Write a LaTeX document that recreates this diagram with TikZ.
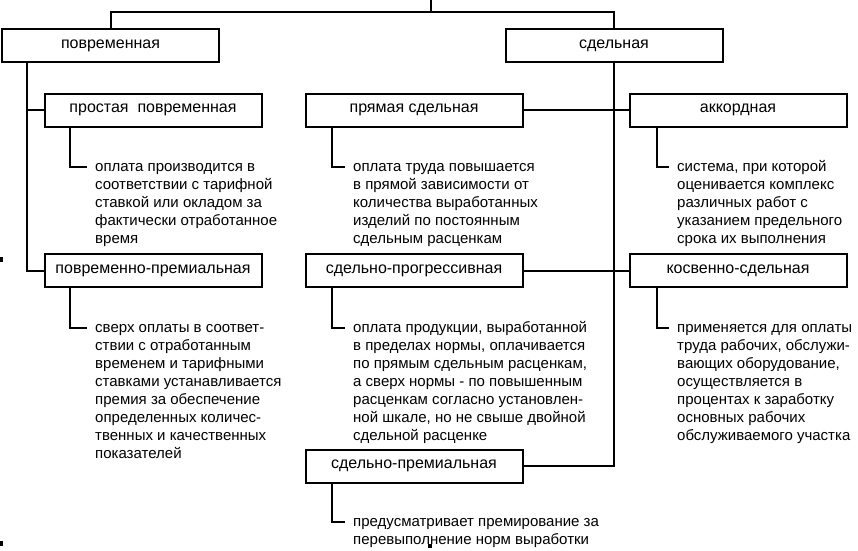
\documentclass[tikz,border=0pt]{standalone}
\usepackage{fontspec}
\setmainfont{Liberation Sans}
\usetikzlibrary{positioning}
\tikzset{
	kind/.style={draw, line width=2pt, minimum width=217pt, minimum height=33pt, inner sep=0pt, font=\fontsize{16}{19}\selectfont},
	note/.style={anchor=base west, inner sep=0pt, font=\fontsize{15}{18}\selectfont},
	link/.style={draw, line width=2pt}
}

\begin{document}
\begin{tikzpicture}[x=1pt, y=-1pt]
\useasboundingbox (0,0) rectangle (858,550);

\node[kind] (pvr) at (110.5,45.5) {повременная};
\node[kind] (sdl) at (614,45.5) {сдельная};

\node[kind] (prost) at (153,110) {простая\ \ повременная};
\node[kind] (ppr) at (153,270.5) {повременно-премиальная};
\node[kind] (pryam) at (414,110) {прямая сдельная};
\node[kind] (sprog) at (414,270.5) {сдельно-прогрессивная};
\node[kind] (sprem) at (414,466) {сдельно-премиальная};
\node[kind] (akk) at (738,110) {аккордная};
\node[kind] (kosv) at (738,270.5) {косвенно-сдельная};

\node[note] (d1) at (95,171) {\begin{tabular}[t]{@{}l@{}}
оплата производится в \\ соответствии с тарифной \\ ставкой или окладом за \\
фактически отработанное \\ время
\end{tabular}};
\node[note] (d2) at (353,171) {\begin{tabular}[t]{@{}l@{}}
оплата труда повышается \\ в прямой зависимости от \\ количества выработанных \\
изделий по постоянным \\ сдельным расценкам
\end{tabular}};
\node[note] (d3) at (677,171) {\begin{tabular}[t]{@{}l@{}}
система, при которой \\ оценивается комплекс \\ различных работ с \\
указанием предельного \\ срока их выполнения
\end{tabular}};
\node[note] (d4) at (95,332) {\begin{tabular}[t]{@{}l@{}}
сверх оплаты в соответ- \\ ствии с отработанным \\ временем и тарифными \\
ставками устанавливается \\ премия за обеспечение \\ определенных количес- \\
твенных и качественных \\ показателей
\end{tabular}};
\node[note] (d5) at (353,332) {\begin{tabular}[t]{@{}l@{}}
оплата продукции, выработанной \\ в пределах нормы, оплачивается \\
по прямым сдельным расценкам, \\ а сверх нормы - по повышенным \\
расценкам согласно установлен- \\ ной шкале, но не свыше двойной \\
сдельной расценке
\end{tabular}};
\node[note] (d6) at (677,332) {\begin{tabular}[t]{@{}l@{}}
применяется для оплаты \\ труда рабочих, обслужи- \\ вающих оборудование, \\
осуществляется в \\ процентах к заработку \\ основных рабочих \\
обслуживаемого участка
\end{tabular}};
\node[note] (d7) at (353,526) {\begin{tabular}[t]{@{}l@{}}
предусматривает премирование за \\ перевыполнение норм выработки
\end{tabular}};

% tree
\coordinate (root) at (431,0);
\coordinate (top) at (431,12);
\draw[link] (root) -- (top);
\draw[link] (pvr.north) |- (top) -| (sdl.north);

\draw[link] ([xshift=26pt]pvr.south west) |- (ppr.west);
\draw[link] ([xshift=26pt]pvr.south west) |- (prost.west);
\draw[link] (sdl.south) |- (sprem.east);
\draw[link] (pryam.east) -- (akk.west);
\draw[link] (sprog.east) -- (kosv.west);

% notes
\draw[link] ([xshift=26pt]prost.south west) |- ([xshift=-8pt,yshift=4pt]d1.base west);
\draw[link] ([xshift=26pt]ppr.south west) |- ([xshift=-8pt,yshift=4pt]d4.base west);
\draw[link] ([xshift=27pt]pryam.south west) |- ([xshift=-8pt,yshift=4pt]d2.base west);
\draw[link] ([xshift=27pt]sprog.south west) |- ([xshift=-8pt,yshift=4pt]d5.base west);
\draw[link] ([xshift=27pt]sprem.south west) |- ([xshift=-8pt,yshift=4pt]d7.base west);
\draw[link] ([xshift=28pt]akk.south west) |- ([xshift=-8pt,yshift=4pt]d3.base west);
\draw[link] ([xshift=28pt]kosv.south west) |- ([xshift=-8pt,yshift=4pt]d6.base west);

\fill (0,257) rectangle (3,262);
\fill (0,541) rectangle (3,546);
\fill (428,544) rectangle (432,548);
\end{tikzpicture}
\end{document}
